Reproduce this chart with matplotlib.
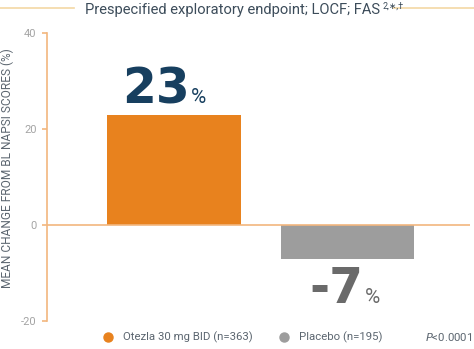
import matplotlib
matplotlib.use("Agg")
import matplotlib.pyplot as plt
from matplotlib.lines import Line2D

# data
groups = ["Otezla 30 mg BID (n=363)", "Placebo (n=195)"]
values = [23, -7]
value_labels = ["23", "-7"]
bar_colors = ["#E8821E", "#9D9D9D"]
label_colors = ["#173F5F", "#6A6A6A"]
yticks = [-20, 0, 20, 40]

AXIS_ORANGE = "#F2B67E"
TEXT_GRAY = "#5C6670"
FONT = ["Roboto", "DejaVu Sans"]
W, H = 474, 349

fig = plt.figure(figsize=(4.74, 3.49), dpi=100)
ax = fig.add_axes([47 / W, 28 / H, 423 / W, 288 / H])

x = [0, 1]
ax.bar(x, values, width=0.767, color=bar_colors, zorder=2)
ax.set_xlim(-0.732, 1.706)
ax.set_ylim(-20, 40)

# zero line
ax.axhline(0, color=AXIS_ORANGE, lw=1.2, zorder=3)

for s in ["top", "right", "bottom"]:
    ax.spines[s].set_visible(False)
ax.spines["left"].set_color(AXIS_ORANGE)
ax.spines["left"].set_linewidth(1.2)
ax.set_xticks([])
ax.set_yticks(yticks)
ax.set_yticklabels([str(t) for t in yticks], family=FONT, fontsize=8, color="#A4A4A4")
ax.tick_params(axis="y", length=3.5, width=1.2, color=AXIS_ORANGE, pad=4)

# big value labels
label_y = [25.4, -16.3]
for xi, txt, y, c in zip(x, value_labels, label_y, label_colors):
    ax.text(xi + 0.09, y, txt, ha="right", va="baseline", fontsize=35,
            fontweight="bold", color=c, family="DejaVu Sans")
    ax.text(xi + 0.10, y, "%", ha="left", va="baseline", fontsize=15,
            color=c, family=FONT)

# y label
fig.text(7 / W, 1 - 168 / H, "MEAN CHANGE FROM BL NAPSI SCORES (%)", rotation=90,
         ha="center", va="center", fontsize=8.6, color=TEXT_GRAY, family=FONT)

# title with rules on both sides
title = fig.text(85 / W, 1 - 10 / H, "Prespecified exploratory endpoint; LOCF; FAS",
                 ha="left", va="center", fontsize=10.6, color="#3C4C5A", family=FONT)
fig.canvas.draw()
bb = title.get_window_extent()
fig.text((bb.x1 + 3) / W, 1 - 6 / H, "2,\u2217,\u2020", ha="left", va="center",
         fontsize=6.5, color="#3C4C5A", family=FONT)
fig.add_artist(Line2D([0, 74 / W], [1 - 8 / H] * 2, color="#F3D8A4", lw=1.2))
fig.add_artist(Line2D([393 / W, 1], [1 - 8 / H] * 2, color="#F3D8A4", lw=1.2))

# legend row
leg_y = 1 - 337 / H
for gx, name, c in zip([108, 284], groups, bar_colors):
    fig.add_artist(Line2D([gx / W], [leg_y], marker="o", markersize=6.5,
                          color=c, markeredgecolor=c))
    fig.text((gx + 15) / W, leg_y, name, ha="left", va="center",
             fontsize=8.2, color=TEXT_GRAY, family=FONT)
fig.text(472 / W, leg_y, "$P$<0.0001", ha="right", va="center",
         fontsize=8.2, color=TEXT_GRAY, family=FONT)

fig.savefig("out.png", dpi=100)
